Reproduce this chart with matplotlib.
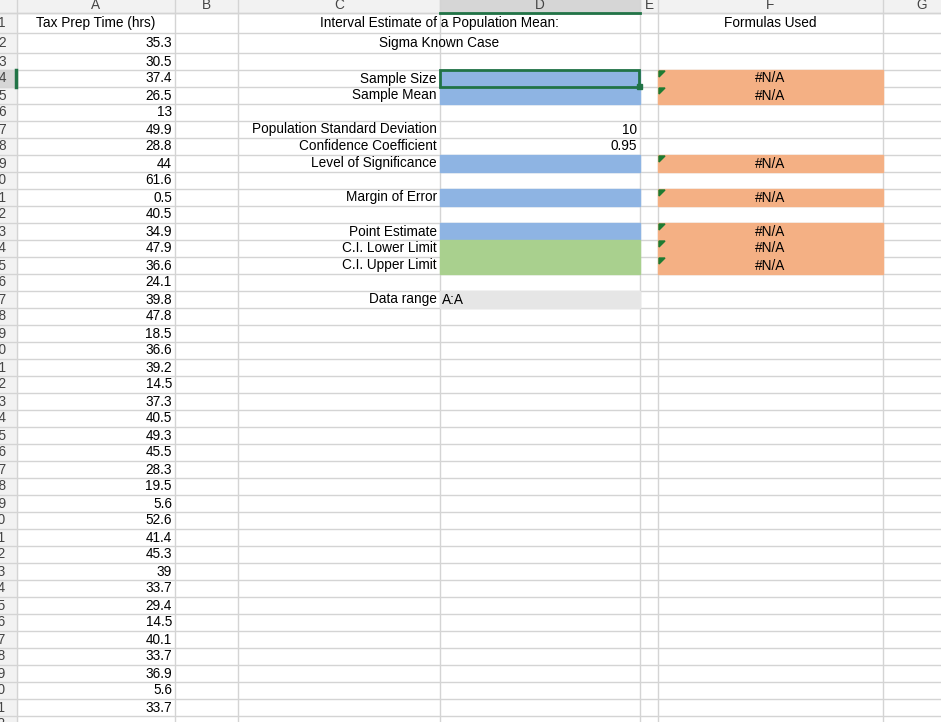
import matplotlib.pyplot as plt
from matplotlib.patches import Rectangle, Polygon

plt.rcParams['font.family'] = ['Liberation Sans', 'DejaVu Sans']

tax_times = [35.3, 30.5, 37.4, 26.5, 13, 49.9, 28.8, 44, 61.6, 0.5, 40.5, 34.9, 47.9,
             36.6, 24.1, 39.8, 47.8, 18.5, 36.6, 39.2, 14.5, 37.3, 40.5, 49.3, 45.5,
             28.3, 19.5, 5.6, 52.6, 41.4, 45.3, 39, 33.7, 29.4, 14.5, 40.1, 33.7,
             36.9, 5.6, 33.7]
col_letters = ["A", "B", "C", "D", "E", "F", "G"]
# (row, label, value text, fill kind, formula text)
rows = [
    (4, "Sample Size", "", "blue", "#N/A"),
    (5, "Sample Mean", "", "blue", "#N/A"),
    (7, "Population Standard Deviation", "10", None, ""),
    (8, "Confidence Coefficient", "0.95", None, ""),
    (9, "Level of Significance", "", "blue", "#N/A"),
    (11, "Margin of Error", "", "blue", "#N/A"),
    (13, "Point Estimate", "", "blue", "#N/A"),
    (14, "C.I. Lower Limit", "", "green", "#N/A"),
    (15, "C.I. Upper Limit", "", "green", "#N/A"),
]
fills = {"blue": "#8EB4E3", "green": "#A9D08E", "orange": "#F4B084", "gray": "#E6E6E6"}

col_edges = [-20, 17, 175, 238, 440, 640, 658, 883, 960]
HDR = 13
FS = 9.8

def row_top(r):
    if r <= 2:
        return HDR + 20 * (r - 1)
    return 53 + 17 * (r - 3)

def row_h(r):
    return 20 if r <= 2 else 17

def cy(r):
    return row_top(r) + row_h(r) / 2

fig = plt.figure(figsize=(9.41, 7.22), dpi=100)
ax = fig.add_axes([0, 0, 1, 1])
ax.set_xlim(0, 941)
ax.set_ylim(722, 0)
ax.axis("off")

grid = "#D4D4D4"
# header row
ax.add_patch(Rectangle((0, -5), 941, HDR + 5, color="#F2F2F2", zorder=0))
ax.add_patch(Rectangle((col_edges[4], -5), col_edges[5] - col_edges[4], HDR + 5, color="#D6D6D6", zorder=0))
ax.plot([col_edges[4], col_edges[5]], [HDR - 0.5, HDR - 0.5], color="#217346", lw=2, zorder=3)
# row header column
ax.add_patch(Rectangle((0, HDR), col_edges[1], 722, color="#F2F2F2", zorder=0))
ax.add_patch(Rectangle((0, row_top(4)), col_edges[1], 17, color="#D6D6D6", zorder=0))
ax.plot([col_edges[1] - 1, col_edges[1] - 1], [row_top(4), row_top(5)], color="#217346", lw=2.5, zorder=3)

# gridlines
for x in col_edges[1:-1]:
    ax.plot([x, x], [-5, 722], color=grid, lw=1, zorder=1)
r = 1
while row_top(r) < 722:
    y = row_top(r)
    ax.plot([0, 941], [y, y], color=grid, lw=1, zorder=1)
    r += 1
ax.plot([0, 941], [HDR, HDR], color=grid, lw=1, zorder=1)

for i, c in enumerate(col_letters):
    x = (col_edges[i + 1] + col_edges[i + 2]) / 2
    ax.text(x, 5, c, ha="center", va="center", fontsize=FS, color="#444444", zorder=4)
for rr in range(1, r):
    ax.text(6, cy(rr), str(rr), ha="right", va="center", fontsize=FS, color="#444444", zorder=4)

# column A
ax.text((col_edges[1] + col_edges[2]) / 2, cy(1), "Tax Prep Time (hrs)", ha="center", va="center", fontsize=FS, zorder=4)
for i, v in enumerate(tax_times):
    ax.text(col_edges[2] - 3, cy(i + 2), f"{v:g}", ha="right", va="center", fontsize=FS, zorder=4)

# titles
mid_cd = (col_edges[3] + col_edges[5]) / 2
ax.text(mid_cd, cy(1), "Interval Estimate of a Population Mean:", ha="center", va="center", fontsize=FS, zorder=4)
ax.text(mid_cd, cy(2), "Sigma Known Case", ha="center", va="center", fontsize=FS, zorder=4)
ax.text((col_edges[6] + col_edges[7]) / 2, cy(1), "Formulas Used", ha="center", va="center", fontsize=FS, zorder=4)

def cell_fill(c, rr, color):
    ax.add_patch(Rectangle((col_edges[c], row_top(rr)), col_edges[c + 1] - col_edges[c], row_h(rr),
                           color=color, zorder=2))

for rr, label, val, kind, formula in rows:
    ax.text(col_edges[4] - 3, cy(rr), label, ha="right", va="center", fontsize=FS, zorder=4)
    if kind:
        cell_fill(4, rr, fills[kind])
    if val:
        ax.text(col_edges[5] - 3, cy(rr), val, ha="right", va="center", fontsize=FS, zorder=4)
    if formula:
        cell_fill(6, rr, fills["orange"])
        ax.text((col_edges[6] + col_edges[7]) / 2, cy(rr), formula, ha="center", va="center", fontsize=FS, zorder=4)
        x0, y0 = col_edges[6] + 1, row_top(rr) + 1
        ax.add_patch(Polygon([(x0, y0), (x0 + 6, y0), (x0, y0 + 6)], color="#1E7B32", zorder=5))

# data range row
ax.text(col_edges[4] - 3, cy(17), "Data range", ha="right", va="center", fontsize=FS, zorder=4)
cell_fill(4, 17, fills["gray"])
ax.text(col_edges[4] + 2, cy(17), "A:A", ha="left", va="center", fontsize=FS, zorder=4)

# selected cell D4
ax.add_patch(Rectangle((col_edges[4] + 0.5, row_top(4)), col_edges[5] - col_edges[4] - 1, 17,
                       fill=False, ec="#217346", lw=2, zorder=6))
ax.add_patch(Rectangle((col_edges[5] - 3, row_top(5) - 3), 5, 5, color="#217346", zorder=7))

fig.savefig("out.png", dpi=100)
